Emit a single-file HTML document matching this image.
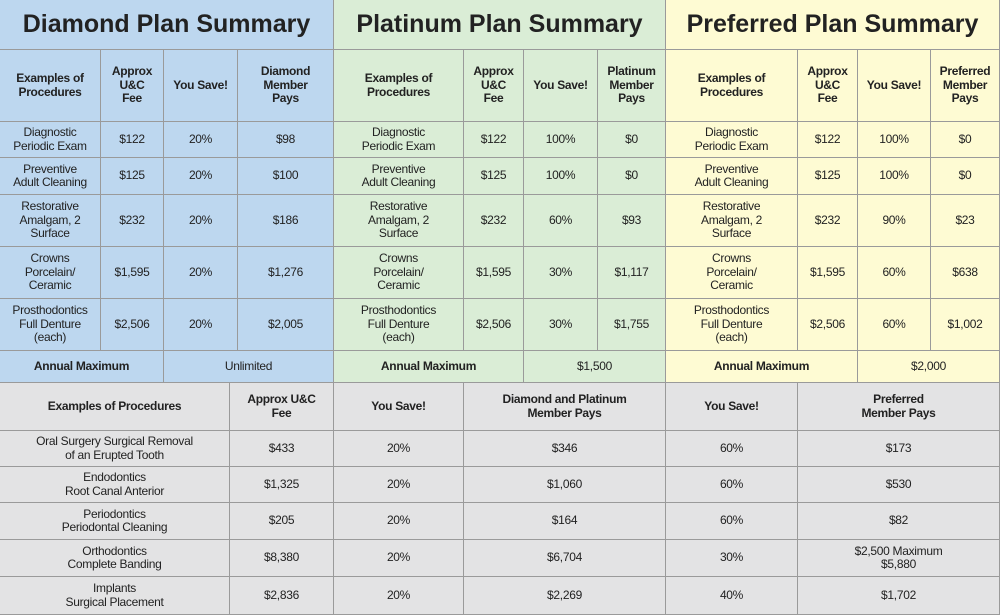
<!DOCTYPE html>
<html><head><meta charset="utf-8"><style>
body{margin:0;width:1000px;height:615px;position:relative;overflow:hidden;background:#fff;font-family:"Liberation Sans",sans-serif;color:#222}
.c{position:absolute;box-sizing:border-box;border-right:1px solid #9a9a9a;border-bottom:1px solid #9a9a9a;display:flex;align-items:center;justify-content:center;text-align:center;font-size:12px;line-height:13.5px;letter-spacing:-0.3px}
.b{font-weight:bold}
.t{font-size:25px;font-weight:bold;letter-spacing:0}
.D{background:#bdd7ef}.P{background:#daedd6}.Y{background:#fefbd3}.G{background:#e3e3e4}
</style></head><body>
<!-- titles -->
<div class="c D t" style="left:0;top:0;width:334px;height:50px">Diamond Plan Summary</div>
<div class="c P t" style="left:334px;top:0;width:332px;height:50px">Platinum Plan Summary</div>
<div class="c Y t" style="left:666px;top:0;width:334px;height:50px">Preferred Plan Summary</div>
<!-- headers -->
<div class="c D b" style="left:0;top:50px;width:101px;height:72px">Examples of<br>Procedures</div>
<div class="c D b" style="left:101px;top:50px;width:63px;height:72px">Approx<br>U&amp;C<br>Fee</div>
<div class="c D b" style="left:164px;top:50px;width:74px;height:72px">You Save!</div>
<div class="c D b" style="left:238px;top:50px;width:96px;height:72px">Diamond<br>Member<br>Pays</div>
<div class="c P b" style="left:334px;top:50px;width:130px;height:72px">Examples of<br>Procedures</div>
<div class="c P b" style="left:464px;top:50px;width:60px;height:72px">Approx<br>U&amp;C<br>Fee</div>
<div class="c P b" style="left:524px;top:50px;width:74px;height:72px">You Save!</div>
<div class="c P b" style="left:598px;top:50px;width:68px;height:72px">Platinum<br>Member<br>Pays</div>
<div class="c Y b" style="left:666px;top:50px;width:132px;height:72px">Examples of<br>Procedures</div>
<div class="c Y b" style="left:798px;top:50px;width:60px;height:72px">Approx<br>U&amp;C<br>Fee</div>
<div class="c Y b" style="left:858px;top:50px;width:73px;height:72px">You Save!</div>
<div class="c Y b" style="left:931px;top:50px;width:69px;height:72px">Preferred<br>Member<br>Pays</div>
<!-- row1 -->
<div class="c D" style="left:0;top:122px;width:101px;height:36px">Diagnostic<br>Periodic Exam</div>
<div class="c D" style="left:101px;top:122px;width:63px;height:36px">$122</div>
<div class="c D" style="left:164px;top:122px;width:74px;height:36px">20%</div>
<div class="c D" style="left:238px;top:122px;width:96px;height:36px">$98</div>
<div class="c P" style="left:334px;top:122px;width:130px;height:36px">Diagnostic<br>Periodic Exam</div>
<div class="c P" style="left:464px;top:122px;width:60px;height:36px">$122</div>
<div class="c P" style="left:524px;top:122px;width:74px;height:36px">100%</div>
<div class="c P" style="left:598px;top:122px;width:68px;height:36px">$0</div>
<div class="c Y" style="left:666px;top:122px;width:132px;height:36px">Diagnostic<br>Periodic Exam</div>
<div class="c Y" style="left:798px;top:122px;width:60px;height:36px">$122</div>
<div class="c Y" style="left:858px;top:122px;width:73px;height:36px">100%</div>
<div class="c Y" style="left:931px;top:122px;width:69px;height:36px">$0</div>
<!-- row2 -->
<div class="c D" style="left:0;top:158px;width:101px;height:37px">Preventive<br>Adult Cleaning</div>
<div class="c D" style="left:101px;top:158px;width:63px;height:37px">$125</div>
<div class="c D" style="left:164px;top:158px;width:74px;height:37px">20%</div>
<div class="c D" style="left:238px;top:158px;width:96px;height:37px">$100</div>
<div class="c P" style="left:334px;top:158px;width:130px;height:37px">Preventive<br>Adult Cleaning</div>
<div class="c P" style="left:464px;top:158px;width:60px;height:37px">$125</div>
<div class="c P" style="left:524px;top:158px;width:74px;height:37px">100%</div>
<div class="c P" style="left:598px;top:158px;width:68px;height:37px">$0</div>
<div class="c Y" style="left:666px;top:158px;width:132px;height:37px">Preventive<br>Adult Cleaning</div>
<div class="c Y" style="left:798px;top:158px;width:60px;height:37px">$125</div>
<div class="c Y" style="left:858px;top:158px;width:73px;height:37px">100%</div>
<div class="c Y" style="left:931px;top:158px;width:69px;height:37px">$0</div>
<!-- row3 -->
<div class="c D" style="left:0;top:195px;width:101px;height:52px">Restorative<br>Amalgam, 2<br>Surface</div>
<div class="c D" style="left:101px;top:195px;width:63px;height:52px">$232</div>
<div class="c D" style="left:164px;top:195px;width:74px;height:52px">20%</div>
<div class="c D" style="left:238px;top:195px;width:96px;height:52px">$186</div>
<div class="c P" style="left:334px;top:195px;width:130px;height:52px">Restorative<br>Amalgam, 2<br>Surface</div>
<div class="c P" style="left:464px;top:195px;width:60px;height:52px">$232</div>
<div class="c P" style="left:524px;top:195px;width:74px;height:52px">60%</div>
<div class="c P" style="left:598px;top:195px;width:68px;height:52px">$93</div>
<div class="c Y" style="left:666px;top:195px;width:132px;height:52px">Restorative<br>Amalgam, 2<br>Surface</div>
<div class="c Y" style="left:798px;top:195px;width:60px;height:52px">$232</div>
<div class="c Y" style="left:858px;top:195px;width:73px;height:52px">90%</div>
<div class="c Y" style="left:931px;top:195px;width:69px;height:52px">$23</div>
<!-- row4 -->
<div class="c D" style="left:0;top:247px;width:101px;height:52px">Crowns<br>Porcelain/<br>Ceramic</div>
<div class="c D" style="left:101px;top:247px;width:63px;height:52px">$1,595</div>
<div class="c D" style="left:164px;top:247px;width:74px;height:52px">20%</div>
<div class="c D" style="left:238px;top:247px;width:96px;height:52px">$1,276</div>
<div class="c P" style="left:334px;top:247px;width:130px;height:52px">Crowns<br>Porcelain/<br>Ceramic</div>
<div class="c P" style="left:464px;top:247px;width:60px;height:52px">$1,595</div>
<div class="c P" style="left:524px;top:247px;width:74px;height:52px">30%</div>
<div class="c P" style="left:598px;top:247px;width:68px;height:52px">$1,117</div>
<div class="c Y" style="left:666px;top:247px;width:132px;height:52px">Crowns<br>Porcelain/<br>Ceramic</div>
<div class="c Y" style="left:798px;top:247px;width:60px;height:52px">$1,595</div>
<div class="c Y" style="left:858px;top:247px;width:73px;height:52px">60%</div>
<div class="c Y" style="left:931px;top:247px;width:69px;height:52px">$638</div>
<!-- row5 -->
<div class="c D" style="left:0;top:299px;width:101px;height:52px">Prosthodontics<br>Full Denture<br>(each)</div>
<div class="c D" style="left:101px;top:299px;width:63px;height:52px">$2,506</div>
<div class="c D" style="left:164px;top:299px;width:74px;height:52px">20%</div>
<div class="c D" style="left:238px;top:299px;width:96px;height:52px">$2,005</div>
<div class="c P" style="left:334px;top:299px;width:130px;height:52px">Prosthodontics<br>Full Denture<br>(each)</div>
<div class="c P" style="left:464px;top:299px;width:60px;height:52px">$2,506</div>
<div class="c P" style="left:524px;top:299px;width:74px;height:52px">30%</div>
<div class="c P" style="left:598px;top:299px;width:68px;height:52px">$1,755</div>
<div class="c Y" style="left:666px;top:299px;width:132px;height:52px">Prosthodontics<br>Full Denture<br>(each)</div>
<div class="c Y" style="left:798px;top:299px;width:60px;height:52px">$2,506</div>
<div class="c Y" style="left:858px;top:299px;width:73px;height:52px">60%</div>
<div class="c Y" style="left:931px;top:299px;width:69px;height:52px">$1,002</div>
<!-- annual -->
<div class="c D b" style="left:0;top:351px;width:164px;height:32px">Annual Maximum</div>
<div class="c D" style="left:164px;top:351px;width:170px;height:32px">Unlimited</div>
<div class="c P b" style="left:334px;top:351px;width:190px;height:32px">Annual Maximum</div>
<div class="c P" style="left:524px;top:351px;width:142px;height:32px">$1,500</div>
<div class="c Y b" style="left:666px;top:351px;width:192px;height:32px">Annual Maximum</div>
<div class="c Y" style="left:858px;top:351px;width:142px;height:32px">$2,000</div>
<!-- bottom header -->
<div class="c G b" style="left:0;top:383px;width:230px;height:48px">Examples of Procedures</div>
<div class="c G b" style="left:230px;top:383px;width:104px;height:48px">Approx U&amp;C<br>Fee</div>
<div class="c G b" style="left:334px;top:383px;width:130px;height:48px">You Save!</div>
<div class="c G b" style="left:464px;top:383px;width:202px;height:48px">Diamond and Platinum<br>Member Pays</div>
<div class="c G b" style="left:666px;top:383px;width:132px;height:48px">You Save!</div>
<div class="c G b" style="left:798px;top:383px;width:202px;height:48px">Preferred<br>Member Pays</div>
<!-- b1 -->
<div class="c G" style="left:0;top:431px;width:230px;height:36px">Oral Surgery Surgical Removal<br>of an Erupted Tooth</div>
<div class="c G" style="left:230px;top:431px;width:104px;height:36px">$433</div>
<div class="c G" style="left:334px;top:431px;width:130px;height:36px">20%</div>
<div class="c G" style="left:464px;top:431px;width:202px;height:36px">$346</div>
<div class="c G" style="left:666px;top:431px;width:132px;height:36px">60%</div>
<div class="c G" style="left:798px;top:431px;width:202px;height:36px">$173</div>
<!-- b2 -->
<div class="c G" style="left:0;top:467px;width:230px;height:36px">Endodontics<br>Root Canal Anterior</div>
<div class="c G" style="left:230px;top:467px;width:104px;height:36px">$1,325</div>
<div class="c G" style="left:334px;top:467px;width:130px;height:36px">20%</div>
<div class="c G" style="left:464px;top:467px;width:202px;height:36px">$1,060</div>
<div class="c G" style="left:666px;top:467px;width:132px;height:36px">60%</div>
<div class="c G" style="left:798px;top:467px;width:202px;height:36px">$530</div>
<!-- b3 -->
<div class="c G" style="left:0;top:503px;width:230px;height:37px">Periodontics<br>Periodontal Cleaning</div>
<div class="c G" style="left:230px;top:503px;width:104px;height:37px">$205</div>
<div class="c G" style="left:334px;top:503px;width:130px;height:37px">20%</div>
<div class="c G" style="left:464px;top:503px;width:202px;height:37px">$164</div>
<div class="c G" style="left:666px;top:503px;width:132px;height:37px">60%</div>
<div class="c G" style="left:798px;top:503px;width:202px;height:37px">$82</div>
<!-- b4 -->
<div class="c G" style="left:0;top:540px;width:230px;height:37px">Orthodontics<br>Complete Banding</div>
<div class="c G" style="left:230px;top:540px;width:104px;height:37px">$8,380</div>
<div class="c G" style="left:334px;top:540px;width:130px;height:37px">20%</div>
<div class="c G" style="left:464px;top:540px;width:202px;height:37px">$6,704</div>
<div class="c G" style="left:666px;top:540px;width:132px;height:37px">30%</div>
<div class="c G" style="left:798px;top:540px;width:202px;height:37px">$2,500 Maximum<br>$5,880</div>
<!-- b5 -->
<div class="c G" style="left:0;top:577px;width:230px;height:38px">Implants<br>Surgical Placement</div>
<div class="c G" style="left:230px;top:577px;width:104px;height:38px">$2,836</div>
<div class="c G" style="left:334px;top:577px;width:130px;height:38px">20%</div>
<div class="c G" style="left:464px;top:577px;width:202px;height:38px">$2,269</div>
<div class="c G" style="left:666px;top:577px;width:132px;height:38px">40%</div>
<div class="c G" style="left:798px;top:577px;width:202px;height:38px">$1,702</div>
</body></html>
